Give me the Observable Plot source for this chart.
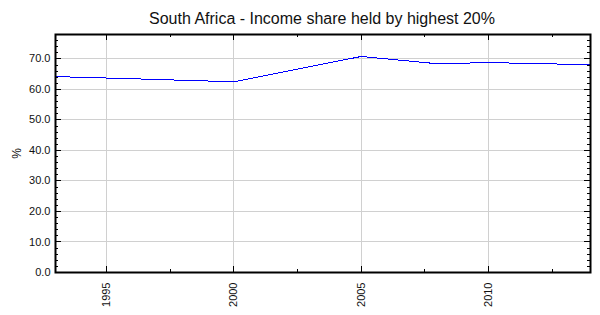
<!DOCTYPE html>
<html><head><meta charset="utf-8">
<script src="https://cdn.jsdelivr.net/npm/d3@7"></script>
<script src="https://cdn.jsdelivr.net/npm/@observablehq/plot@0.6"></script>
<style>
body{margin:0;background:#fff;font-family:"Liberation Sans",Arial,sans-serif;}
#title{width:600px;height:30px;box-sizing:border-box;padding-left:44px;padding-top:9px;text-align:center;font-size:16px;line-height:20px;color:#111;}
#chart svg{display:block;}
</style></head><body>
<div id="title">South Africa - Income share held by highest 20%</div>
<div id="chart"></div>
<script>
const years = [1993, 1996, 2000, 2005, 2008, 2010, 2014];
const values = [64.2, 63.5, 62.5, 70.8, 68.4, 68.8, 68.1];
const yTicks = [0, 10, 20, 30, 40, 50, 60, 70];
const xTicks = [1995, 2000, 2005, 2010];
const xMinorTicks = [1997.5, 2002.5, 2007.5, 2012.5];
const yMinorTicks = d3.range(2, 78, 2).filter(d => d % 10 !== 0);
const yLabel = "%";

const data = years.map((year, i) => ({year, value: values[i]}));

const width = 600, height = 285;
const mL = 55, mR = 10, mT = 4, mB = 43;
const W = width - mL - mR, H = height - mT - mB;
const tk = {stroke: "#000", strokeWidth: 1, shapeRendering: "crispEdges"};

const chart = Plot.plot({
  width, height,
  marginLeft: mL, marginRight: mR, marginTop: mT, marginBottom: mB,
  style: {fontFamily: "'Liberation Sans', Arial, sans-serif", fontSize: "11px", color: "#111", background: "#fff", overflow: "visible"},
  x: {domain: [1993, 2014]},
  y: {domain: [0, 78]},
  marks: [
    Plot.gridX(xTicks, {stroke: "#d0d0d0", strokeOpacity: 1, shapeRendering: "crispEdges"}),
    Plot.gridY(yTicks, {stroke: "#d0d0d0", strokeOpacity: 1, shapeRendering: "crispEdges"}),
    Plot.line(data, {x: "year", y: "value", stroke: "#0000ff", strokeWidth: 1, shapeRendering: "crispEdges"}),
    Plot.tickY(yTicks, {...tk, insetRight: W - 6}),
    Plot.tickY(yTicks, {...tk, insetLeft: W - 6}),
    Plot.tickY(yMinorTicks, {...tk, insetRight: W - 3}),
    Plot.tickY(yMinorTicks, {...tk, insetLeft: W - 3}),
    Plot.tickX(xTicks, {...tk, insetTop: H - 6}),
    Plot.tickX(xTicks, {...tk, insetBottom: H - 6}),
    Plot.tickX(xMinorTicks, {...tk, insetTop: H - 3}),
    Plot.tickX(xMinorTicks, {...tk, insetBottom: H - 3}),
    Plot.axisY(yTicks, {tickSize: 0, tickPadding: 5, tickFormat: d3.format(".1f"), label: null}),
    Plot.axisY([], {tickSize: 0, label: yLabel, labelAnchor: "center", labelOffset: 43, labelArrow: "none", fontSize: 12}),
    Plot.axisX(xTicks, {tickSize: 0, tickRotate: -90, tickPadding: 10, tickFormat: d => String(d), label: null}),
    Plot.frame({stroke: "#000", strokeWidth: 2})
  ]
});
document.getElementById("chart").appendChild(chart);
</script>
</body></html>
